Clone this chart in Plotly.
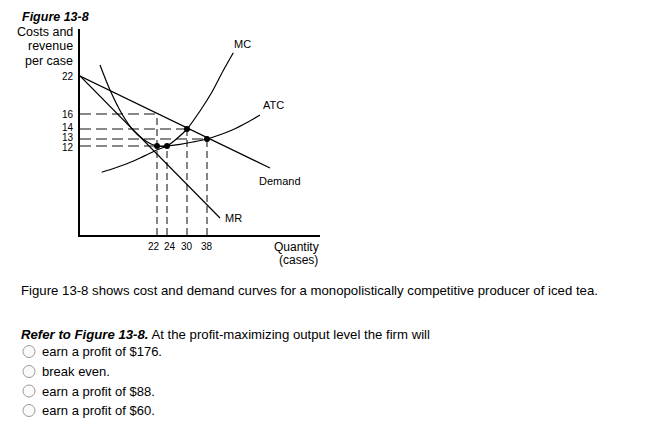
import plotly.graph_objects as go

W, H = 656, 446
OFF = 8  # default page margin of the html body
FW, FH = W - 2 * OFF, H - 2 * OFF

# ---- data (diagram units: origin at the axes corner) ----
Q_LABELS = ["22", "24", "30", "38"]
Q_POS = [77, 87, 107, 127]
P_LABELS = ["22", "16", "14", "13", "12"]
P_POS = [159, 121, 106, 96, 89]

DEMAND_X = [0, 190]
DEMAND_Y = [159, 67]
MR_X = [0, 140]
MR_Y = [159, 17]
ATC_X = [20, 30, 42, 53, 63, 70, 77, 82, 87, 100, 113, 127, 140, 153.3, 167, 180]
ATC_Y = [170, 145, 121, 105, 96, 91.5, 89, 88.5, 89, 90.7, 93, 96, 100.2, 105.5, 112.5, 120]
MC_X = [21.7, 35, 48, 60, 68.3, 78, 87, 97, 107, 120, 132, 143, 153.3]
MC_Y = [62.7, 67, 71.7, 77, 81, 85.5, 89, 96.5, 106, 124, 143, 164, 182.3]

DOT_X = [77, 87, 107, 127]
DOT_Y = [89, 89, 106, 96]

# horizontal guides: price level -> right end
H_GUIDE_Y = [121, 106, 96, 89]
H_GUIDE_X_END = [77, 107, 127, 87]
H_GUIDE_COLOR = ["#111111", "#888888", "#888888", "#888888"]
H_GUIDE_W = [1.2, 2, 2, 2]
# vertical guides: quantity -> top
V_GUIDE_X = [77, 87, 107, 127]
V_GUIDE_Y_TOP = [121, 89, 106, 96]

TITLE = "Figure 13-8"
Y_TITLE = ["Costs and", "revenue", "per case"]
X_TITLE = ["Quantity", "(cases)"]
INTRO = "Figure 13-8 shows cost and demand curves for a monopolistically competitive producer of iced tea."
QUESTION_BOLD = "Refer to Figure 13-8."
QUESTION_REST = " At the profit-maximizing output level the firm will"
OPTIONS = ["earn a profit of $176.", "break even.", "earn a profit of $88.", "earn a profit of $60."]

FONT = "Liberation Sans, Arial, Helvetica, sans-serif"

def px(x):
    return (x - OFF) / FW

def py(y):
    return 1 - (y - OFF) / FH

fig = go.Figure()

line = dict(color="#000000", width=1.2)
for gy, gx, c, w in zip(H_GUIDE_Y, H_GUIDE_X_END, H_GUIDE_COLOR, H_GUIDE_W):
    fig.add_trace(go.Scatter(x=[0, gx], y=[gy, gy], mode="lines",
                             line=dict(color=c, width=w, dash="11px,5px"),
                             hoverinfo="skip", showlegend=False))
for gx, gy in zip(V_GUIDE_X, V_GUIDE_Y_TOP):
    fig.add_trace(go.Scatter(x=[gx, gx], y=[0, gy], mode="lines",
                             line=dict(color="#333333", width=1.2, dash="7px,4px"),
                             hoverinfo="skip", showlegend=False))

fig.add_trace(go.Scatter(x=DEMAND_X, y=DEMAND_Y, mode="lines", line=line, showlegend=False))
fig.add_trace(go.Scatter(x=MR_X, y=MR_Y, mode="lines", line=line, showlegend=False))
fig.add_trace(go.Scatter(x=ATC_X, y=ATC_Y, mode="lines",
                         line=dict(color="#000000", width=1.2, shape="spline", smoothing=0.8),
                         showlegend=False))
fig.add_trace(go.Scatter(x=MC_X, y=MC_Y, mode="lines",
                         line=dict(color="#000000", width=1.2, shape="spline", smoothing=0.8),
                         showlegend=False))
fig.add_trace(go.Scatter(x=DOT_X, y=DOT_Y, mode="markers",
                         marker=dict(color="#000000", size=6), showlegend=False))

x0, x1 = 80, 320
y0, y1 = 235, 29
fig.update_layout(
    width=FW, height=FH, margin=dict(l=0, r=0, t=0, b=0),
    paper_bgcolor="white", plot_bgcolor="white",
    font=dict(family=FONT, color="#000000"),
    xaxis=dict(domain=[px(x0), px(x1)], range=[0, x1 - x0], showgrid=False, zeroline=False,
               showline=True, linecolor="#000000", linewidth=2, ticks="",
               showticklabels=False, tickvals=Q_POS),
    yaxis=dict(domain=[py(y0), py(y1)], range=[0, y0 - y1], showgrid=False, zeroline=False,
               showline=True, linecolor="#000000", linewidth=2, ticks="",
               showticklabels=False, tickvals=P_POS),
)

ann = []
def text(t, x, y, size=12, anchor="left", **kw):
    ann.append(dict(text=t, x=px(x), y=py(y), xref="paper", yref="paper",
                    xanchor=anchor, yanchor="middle", showarrow=False,
                    font=dict(size=size, family=FONT, color="#000000"), **kw))

# tick labels placed on the axes' data scale, nudged apart where crowded
q_nudge = [-3, 3, 0, 0]
for lab, pos, dx in zip(Q_LABELS, Q_POS, q_nudge):
    ann.append(dict(text=lab, x=pos, y=py(246.7), xref="x", yref="paper", xshift=dx,
                    xanchor="center", yanchor="middle", showarrow=False,
                    font=dict(size=10, family=FONT, color="#000000")))
p_nudge = [0, 0, 2, 2, -1]
for lab, pos, dy in zip(P_LABELS, P_POS, p_nudge):
    ann.append(dict(text=lab, x=px(75), y=pos, xref="paper", yref="y", yshift=dy,
                    xanchor="right", yanchor="middle", showarrow=False, borderpad=0,
                    font=dict(size=10, family=FONT, color="#000000")))

text("<b><i>" + TITLE + "</i></b>", 20, 17, size=12.5)
for t, yy in zip(Y_TITLE, [32, 46.5, 61]):
    text(t, 75, yy, size=12.5, anchor="right")
text(X_TITLE[0], 321, 246.5, size=12, anchor="right")
text(X_TITLE[1], 320, 260, size=12, anchor="right")
text("MC", 242, 43.5, size=11, anchor="center")
text("ATC", 273, 105, size=11, anchor="center")
text("Demand", 280, 180.5, size=11, anchor="center")
text("MR", 223, 218, size=11, anchor="left")

text(INTRO, 19, 290.5, size=13.2)
text("<b><i>" + QUESTION_BOLD + "</i></b>" + QUESTION_REST, 19, 334, size=13.2)
opt_y = [351.5, 371.5, 391, 410.5]
shapes = []
for t, yy in zip(OPTIONS, opt_y):
    text(t, 40, yy, size=13)
    shapes.append(dict(type="circle", xref="paper", yref="paper",
                       x0=px(23), x1=px(35), y0=py(yy + 6), y1=py(yy - 6),
                       line=dict(color="#9a9a9a", width=1), fillcolor="#fafafa"))

fig.update_layout(annotations=ann, shapes=shapes)
fig.write_html("out.html")
